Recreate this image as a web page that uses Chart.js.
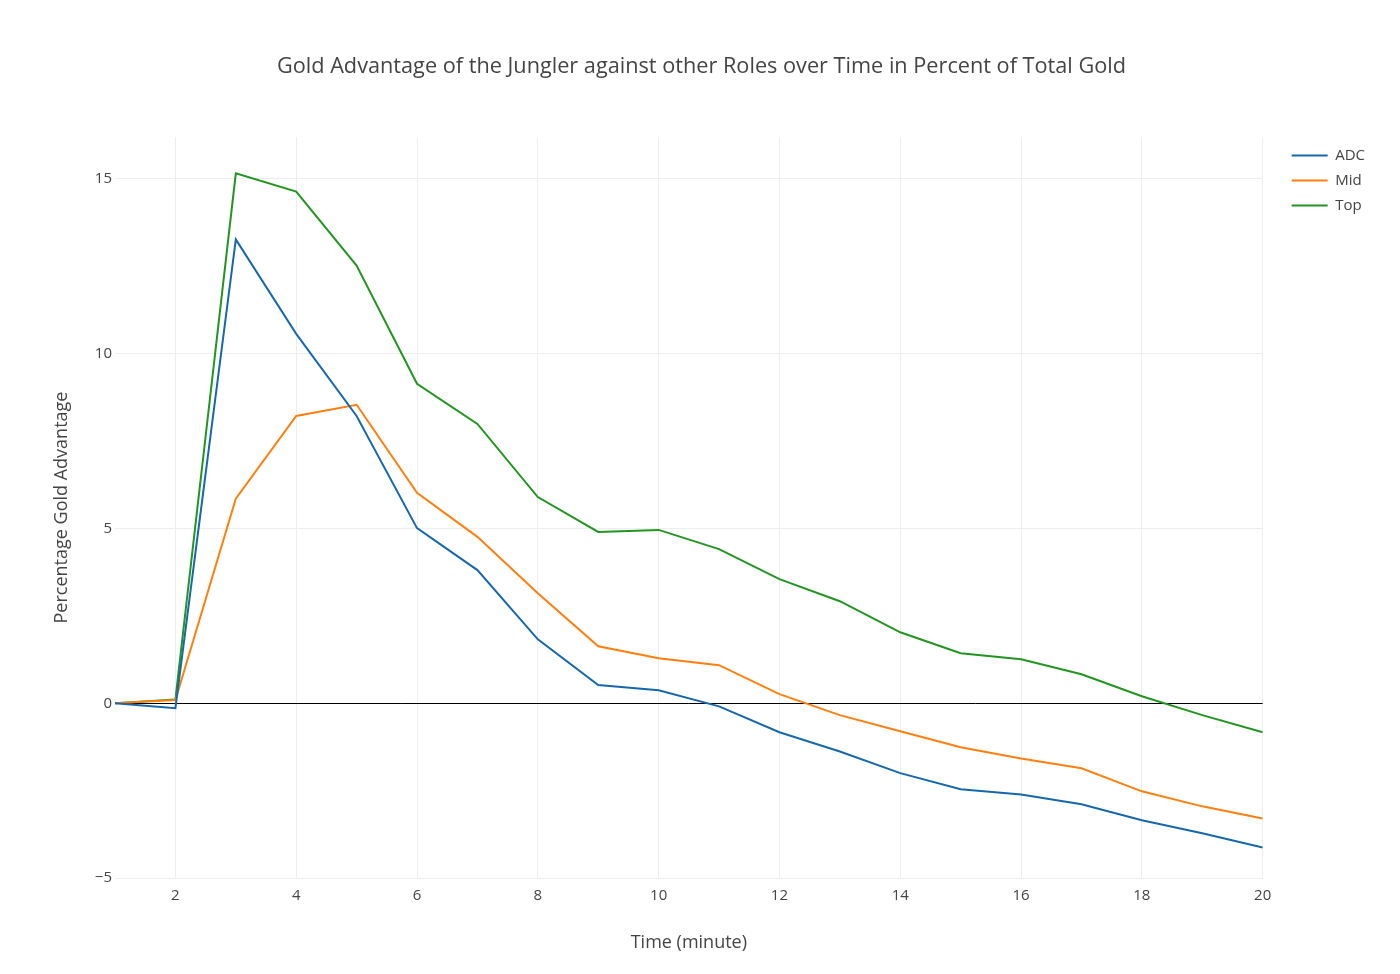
<!DOCTYPE html>
<html>
<head>
<meta charset="utf-8">
<script src="https://cdn.jsdelivr.net/npm/chart.js@4/dist/chart.umd.min.js"></script>
<style>
  body { margin: 0; background: #fff; }
  #wrap { width: 1400px; height: 974px; position: relative; }
</style>
</head>
<body>
<div id="wrap"><canvas id="goldChart"></canvas></div>
<script>
// minutes 1..20
const minutes = [1, 2, 3, 4, 5, 6, 7, 8, 9, 10, 11, 12, 13, 14, 15, 16, 17, 18, 19, 20];

const adcValues = [0, -0.14, 13.27, 10.57, 8.22, 5.01, 3.81, 1.83, 0.52, 0.37,
    -0.09, -0.83, -1.38, -2.0, -2.46, -2.61, -2.89, -3.35, -3.72, -4.13];
const midValues = [0, 0.09, 5.85, 8.22, 8.54, 6.02, 4.76, 3.15, 1.63, 1.29,
    1.09, 0.26, -0.34, -0.80, -1.26, -1.58, -1.86, -2.52, -2.95, -3.30];
const topValues = [0, 0.11, 15.16, 14.64, 12.52, 9.14, 7.99, 5.90, 4.90, 4.96,
    4.41, 3.55, 2.92, 2.03, 1.43, 1.26, 0.83, 0.20, -0.34, -0.83];

const xTickValues = [2, 4, 6, 8, 10, 12, 14, 16, 18, 20];
const yTickValues = [-5, 0, 5, 10, 15];

const textColor = '#444';
Chart.defaults.font.family = '"Open Sans", "Noto Sans", sans-serif';
Chart.defaults.color = textColor;

function toPoints(values) {
    return values.map((v, i) => ({ x: minutes[i], y: v }));
}

function makeSeries(label, values, color) {
    return {
        label: label,
        data: toPoints(values),
        borderColor: color,
        backgroundColor: color,
        borderWidth: 2,
        pointRadius: 0,
        tension: 0
    };
}

// move the legend down next to the plot top, like plotly does
const legendOffset = {
    id: 'legendOffset',
    afterLayout(chart) {
        const lg = chart.legend;
        lg.top += 138;
        lg.bottom += 138;
        lg.left += 19;
        lg.right += 19;
    }
};

const ctx = document.getElementById('goldChart').getContext('2d');
new Chart(ctx, {
    type: 'line',
    data: {
        datasets: [
            makeSeries('ADC', adcValues, '#1668ad'),
            makeSeries('Mid', midValues, '#ff7f0e'),
            makeSeries('Top', topValues, '#21961f')
        ]
    },
    options: {
        responsive: true,
        maintainAspectRatio: false,
        animation: false,
        layout: { padding: { left: 47, right: 44, top: 0, bottom: 16 } },
        plugins: {
            title: {
                display: true,
                text: 'Gold Advantage of the Jungler against other Roles over Time in Percent of Total Gold',
                font: { size: 21.7, weight: 'normal' },
                color: textColor,
                padding: { top: 54, bottom: 57 }
            },
            legend: {
                position: 'right',
                align: 'start',
                labels: {
                    usePointStyle: true,
                    pointStyle: 'line',
                    pointStyleWidth: 36,
                    font: { size: 15 },
                    color: textColor,
                    padding: 10
                }
            },
            tooltip: { enabled: false }
        },
        scales: {
            x: {
                type: 'linear',
                min: 1,
                max: 20,
                afterBuildTicks: scale => { scale.ticks = xTickValues.map(v => ({ value: v })); },
                afterFit: scale => { scale.height = 80; },
                ticks: { font: { size: 15 }, color: textColor, padding: 9 },
                grid: { color: '#eeeeee', drawTicks: false },
                border: { display: false },
                title: {
                    display: true,
                    text: 'Time (minute)',
                    font: { size: 18 },
                    color: textColor
                }
            },
            y: {
                type: 'linear',
                min: -5,
                max: 16.2,
                afterBuildTicks: scale => { scale.ticks = yTickValues.map(v => ({ value: v })); },
                afterFit: scale => { scale.width = 68; },
                ticks: {
                    font: { size: 15 },
                    color: textColor,
                    padding: 3,
                    callback: v => (v < 0 ? '\u2212' + Math.abs(v) : String(v))
                },
                grid: {
                    color: c => (c.tick && c.tick.value === 0 ? '#000000' : '#eeeeee'),
                    drawTicks: false
                },
                border: { display: false },
                title: {
                    display: true,
                    text: 'Percentage Gold Advantage',
                    font: { size: 18 },
                    color: textColor
                }
            }
        }
    },
    plugins: [legendOffset]
});
</script>
</body>
</html>
